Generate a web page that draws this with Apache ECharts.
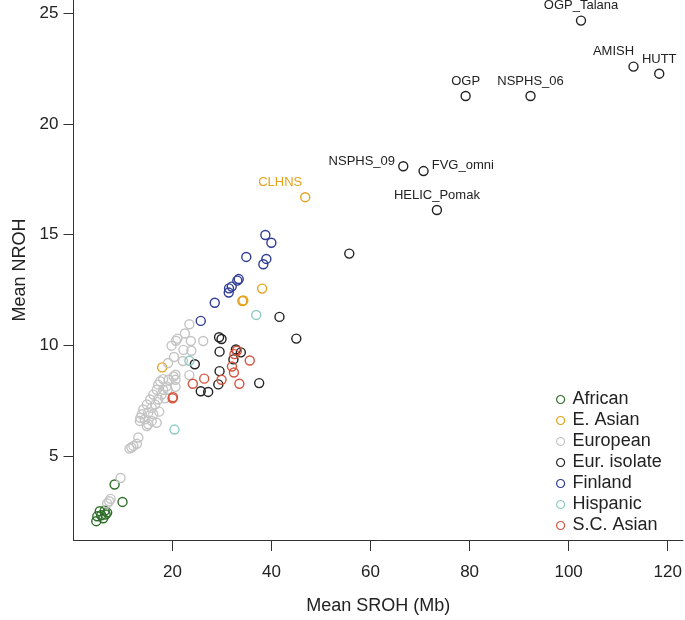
<!DOCTYPE html>
<html>
<head>
<meta charset="utf-8">
<script src="https://cdn.jsdelivr.net/npm/echarts@6/dist/echarts.min.js"></script>
<style>
  html, body { margin: 0; padding: 0; background: #fff; }
  #chart { width: 685px; height: 620px; }
</style>
</head>
<body>
<div id="chart"></div>
<script>
// groups shown in the legend
var groups = ['African', 'E. Asian', 'European', 'Eur. isolate', 'Finland', 'Hispanic', 'S.C. Asian'];
var xTicks = [20, 40, 60, 80, 100, 120];
var yTicks = [5, 10, 15, 20, 25];

// [mean SROH (Mb), mean NROH]
var african = [[8.3,3.71],[9.9,2.92],[5.3,2.50],[6.3,2.52],[6.8,2.44],[5.6,2.32],[4.8,2.27],[4.6,2.05],[6.0,2.18],[6.5,2.35]];
var eastAsian = [[46.8,16.69],[38.1,12.56],[34.1,12.0],[34.3,12.02],[17.9,9.0]];
var eastAsianNames = ['CLHNS', '', '', '', ''];
var european = [
  [23.4,10.95],[22.5,10.53],[21.0,10.30],[20.7,10.20],[23.7,10.19],[26.2,10.19],[19.8,9.98],[22.2,9.79],
  [23.8,9.75],[20.3,9.47],[19.1,9.20],[22.1,9.29],[23.4,8.65],[20.6,8.67],[20.6,8.44],[20.6,8.12],
  [20.2,8.59],[19.2,8.44],[18.1,8.47],[17.5,8.37],[17.1,8.22],[18.8,8.14],[18.1,7.99],[16.8,7.99],
  [17.8,7.77],[16.1,7.77],[17.1,7.55],[15.5,7.55],[16.5,7.32],[14.8,7.32],[15.8,7.17],[14.1,7.10],
  [15.1,6.95],[16.1,6.88],[13.8,6.88],[14.4,6.65],[15.8,6.58],[16.8,6.50],[13.4,6.58],[15.1,6.43],
  [14.8,6.35],[17.3,7.0],[18.5,7.6],[19.0,8.0],
  [13.5,6.72],[13.1,5.83],[12.8,5.55],[12.1,5.45],[11.7,5.38],[11.3,5.33],[9.5,4.0],[7.5,3.06],[7.2,2.95],[6.8,2.85]
];
var isolate = [
  [118.3,22.27],[113.1,22.59],[102.5,24.67],[79.2,21.26],[92.3,21.26],[66.6,18.09],[70.7,17.87],[73.4,16.11],
  [55.7,14.14],[41.6,11.28],[45.0,10.30],[29.4,10.36],[29.9,10.28],[29.5,9.71],[32.8,9.81],[33.8,9.68],
  [32.3,9.36],[24.5,9.14],[29.5,8.83],[37.5,8.29],[29.25,8.23],[25.7,7.92],[27.2,7.89]
];
var isolateNames = ['HUTT','AMISH','OGP_Talana','OGP','NSPHS_06','NSPHS_09','FVG_omni','HELIC_Pomak'];
var finland = [
  [38.75,14.98],[39.96,14.63],[34.9,13.99],[38.95,13.90],[38.34,13.66],[33.37,12.99],
  [33.09,12.92],[31.96,12.65],[31.41,12.57],[31.35,12.38],[28.53,11.92],[25.7,11.10]
];
var hispanic = [[36.9,11.37],[23.4,9.3],[20.4,6.19]];
var scAsian = [[20.0,7.6],[20.1,7.65],[24.1,8.26],[26.4,8.49],[29.9,8.44],[32.4,8.77],[32.0,9.04],[33.5,8.26],[35.6,9.31],[32.5,9.6],[33.0,9.75]];

var colors = ['#2f6f2a', '#e5a21c', '#c4c4c4', '#222222', '#2e3c95', '#8ccbc3', '#d4553f'];

// where each text label sits relative to its point
var labelPos = {
  'HUTT': { position: 'top' },
  'AMISH': { position: 'top', offset: [-20, 0] },
  'OGP_Talana': { position: 'top' },
  'OGP': { position: 'top' },
  'NSPHS_06': { position: 'top' },
  'NSPHS_09': { position: 'left', offset: [0, -5] },
  'FVG_omni': { position: 'right', offset: [0, -6] },
  'HELIC_Pomak': { position: 'top' },
  'CLHNS': { position: 'top', offset: [-25, 0], color: '#e5a21c' }
};

function withNames(points, names) {
  return points.map(function (p, i) {
    var n = names && names[i];
    var d = { value: p };
    if (n) {
      var lp = labelPos[n];
      d.label = {
        show: true,
        formatter: n,
        position: lp.position,
        offset: lp.offset || [0, 0],
        distance: 3,
        color: lp.color || '#222',
        fontSize: 13,
        fontFamily: 'Liberation Sans, Arial, sans-serif'
      };
    }
    return d;
  });
}

var seriesData = [african, withNames(eastAsian, eastAsianNames), european, withNames(isolate, isolateNames), finland, hispanic, scAsian];

var series = groups.map(function (g, i) {
  return {
    name: g,
    type: 'scatter',
    symbol: 'circle',
    symbolSize: 9,
    data: seriesData[i],
    itemStyle: { color: 'rgba(0,0,0,0)', borderColor: colors[i], borderWidth: 1.4, opacity: 1 },
    emphasis: { disabled: true },
    label: { show: false }
  };
});

var chart = echarts.init(document.getElementById('chart'));
var font = 'Liberation Sans, Arial, sans-serif';
chart.setOption({
  animation: false,
  textStyle: { fontFamily: font },
  grid: { left: 73.5, right: 2, top: 0, bottom: 75, containLabel: false },
  legend: {
    orient: 'vertical',
    left: 551,
    top: 384,
    itemWidth: 8,
    itemHeight: 8,
    itemGap: 0,
    icon: 'circle',
    data: groups.map(function (g, i) {
      return { name: g, itemStyle: { color: 'rgba(0,0,0,0)', borderColor: colors[i], borderWidth: 1.2 } };
    }),
    textStyle: { fontSize: 18, color: '#222', lineHeight: 21, padding: [0, 0, 0, 3], fontFamily: font }
  },
  xAxis: {
    type: 'value',
    min: 0,
    max: 123.1,
    name: 'Mean SROH (Mb)',
    nameLocation: 'middle',
    nameGap: 57,
    nameTextStyle: { fontSize: 18, color: '#222', fontFamily: font },
    splitLine: { show: false },
    axisLine: { show: true, lineStyle: { color: '#333', width: 1 } },
    axisTick: { show: true, length: 11, customValues: xTicks, lineStyle: { color: '#333' } },
    axisLabel: { customValues: xTicks, fontSize: 17, color: '#222', margin: 24, fontFamily: font }
  },
  yAxis: {
    type: 'value',
    min: 1.2,
    max: 25.6,
    name: 'Mean NROH',
    nameLocation: 'middle',
    nameGap: 41,
    nameTextStyle: { fontSize: 18, color: '#222', fontFamily: font },
    splitLine: { show: false },
    axisLine: { show: true, lineStyle: { color: '#333', width: 1 } },
    axisTick: { show: true, length: 10, customValues: yTicks, lineStyle: { color: '#333' } },
    axisLabel: { customValues: yTicks, fontSize: 17, color: '#222', margin: 15, fontFamily: font }
  },
  series: series
});
</script>
</body>
</html>
